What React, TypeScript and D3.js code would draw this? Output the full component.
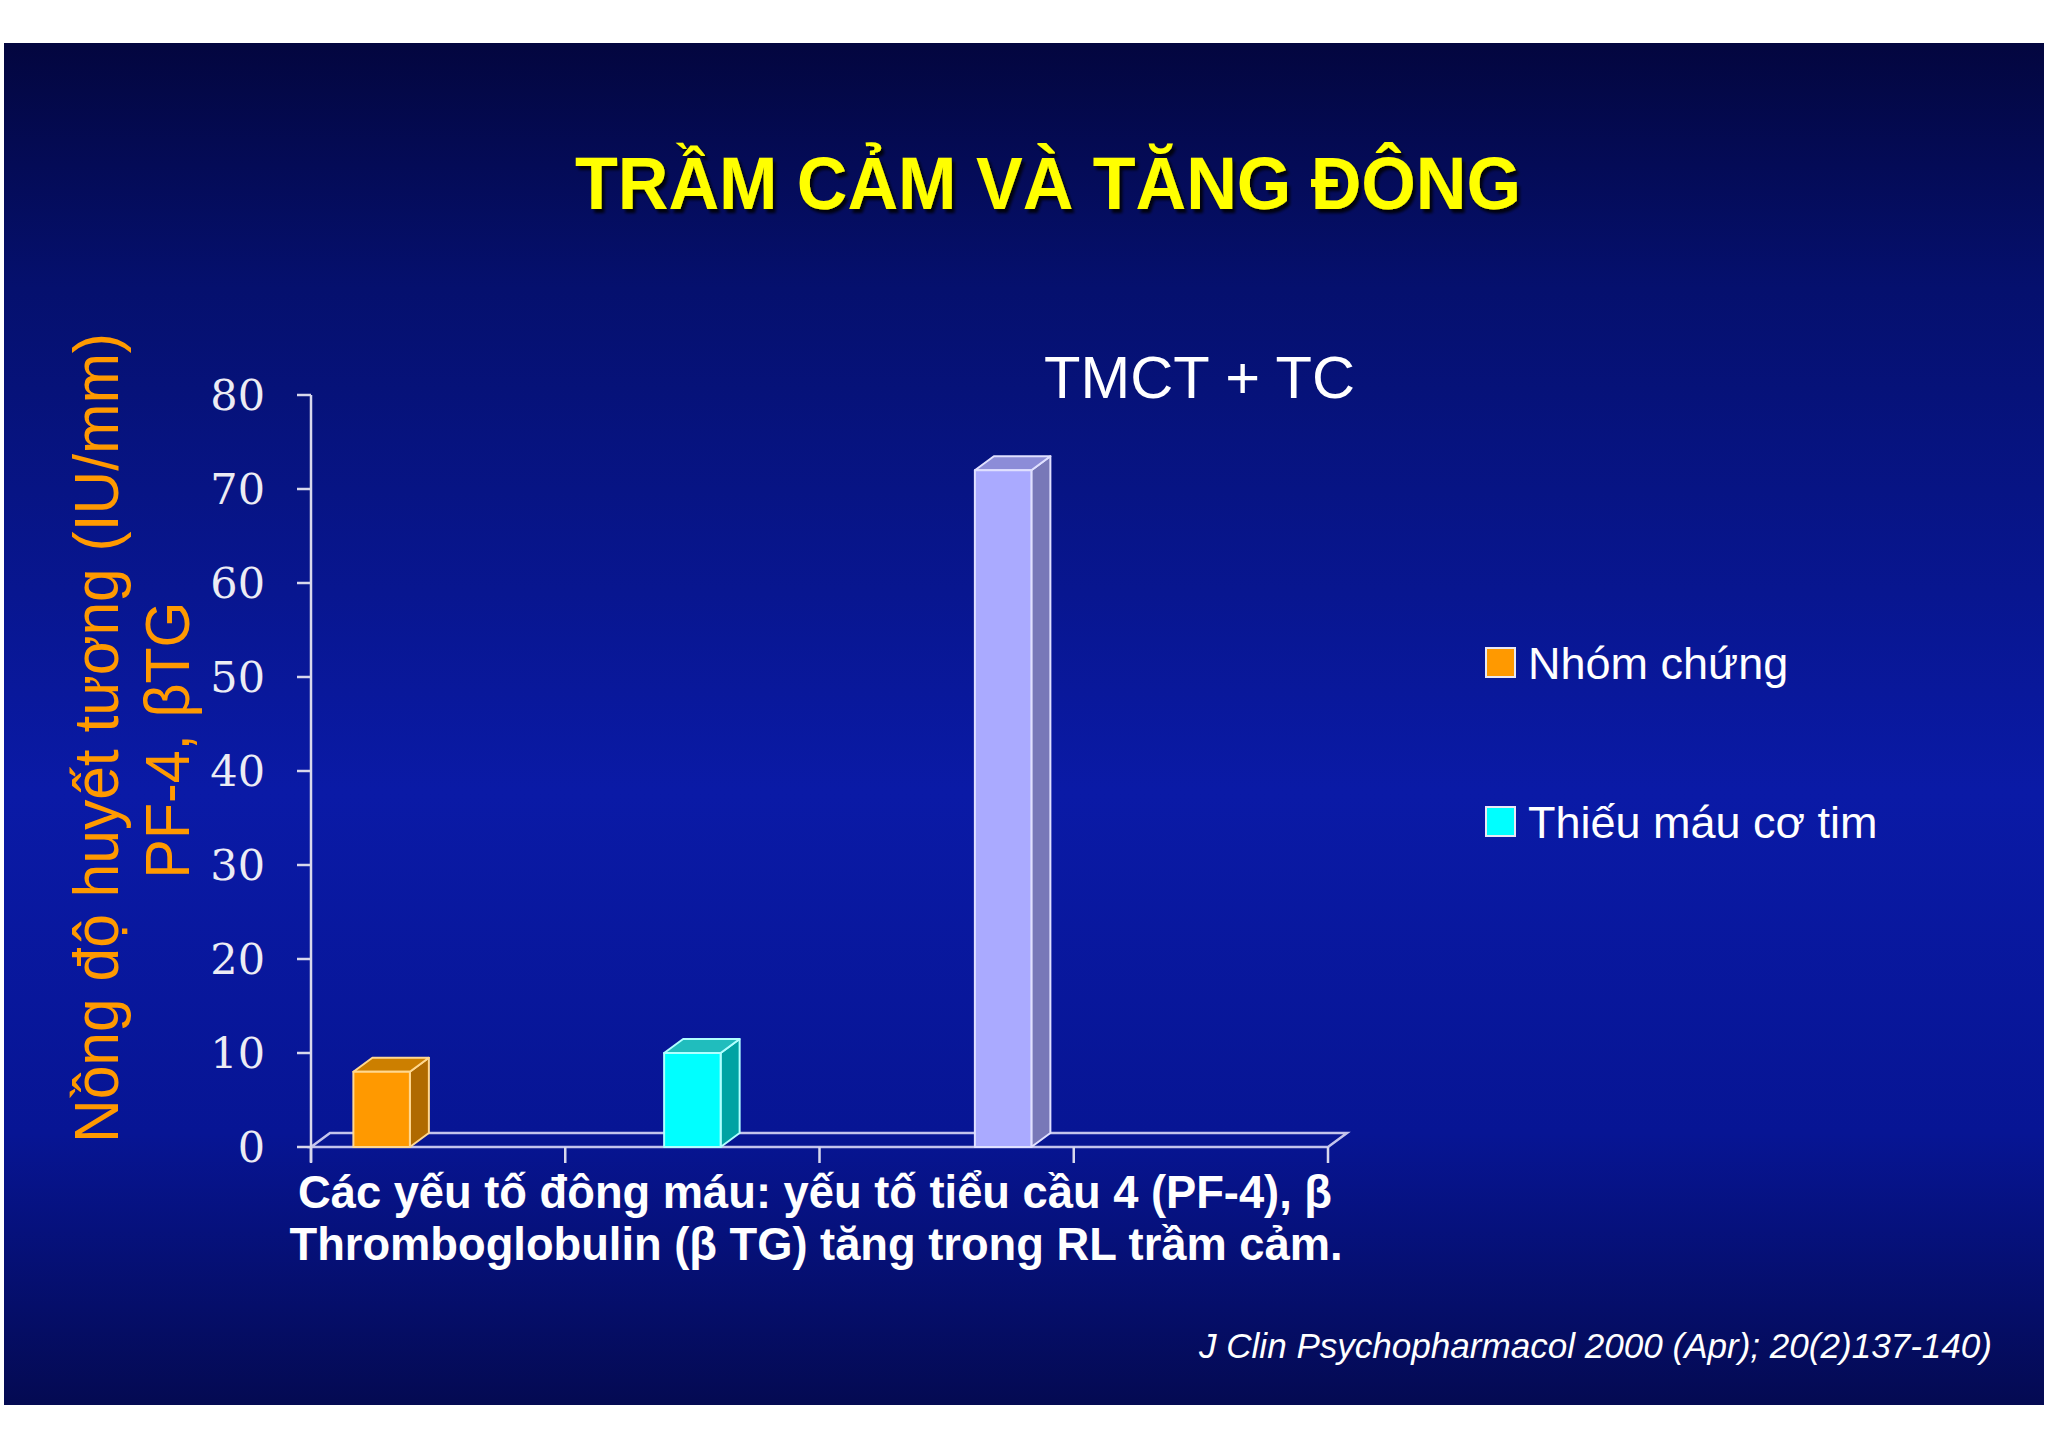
import React from "react";
import * as d3 from "d3";

// categories along the floor (unnamed in the slide)
const categories = ["c1", "c2", "c3", "c4"];
const seriesNames = ["Nhóm chứng", "Thiếu máu cơ tim", "TMCT + TC"];
// one value per series, each sitting in its own category
const nhomChung = [8, null, null, null];
const thieuMau = [null, 10, null, null];
const tmctTc = [null, null, 72, null];
const seriesValues = [nhomChung, thieuMau, tmctTc];
const yTicks = [0, 10, 20, 30, 40, 50, 60, 70, 80];
const legendItems = ["Nhóm chứng", "Thiếu máu cơ tim"];

const faces = [
  { front: "#FF9900", top: "#CC7F00", side: "#B06A00", edge: "#FFD890" },
  { front: "#00FFFF", top: "#20BDBD", side: "#00A3A3", edge: "#B0FFFF" },
  { front: "#AAAAFF", top: "#8C8CD8", side: "#7878B8", edge: "#E0E0FF" },
];

const W = 2048;
const H = 1448;
const depth = { dx: 19, dy: -14 };

export default function App() {
  const y = d3.scaleLinear().domain([0, 80]).range([1147, 395]);
  const x0 = d3.scaleBand().domain(categories).range([311, 1328]).padding(0);
  const x1 = d3
    .scaleBand()
    .domain(seriesNames)
    .range([0, x0.bandwidth()])
    .paddingInner(0)
    .paddingOuter(0.75);

  const y0 = y(0);
  const xL = x0.range()[0];
  const xR = x0.range()[1];

  const bars: any[] = [];
  seriesValues.forEach((vals, si) => {
    vals.forEach((v, ci) => {
      if (v == null) return;
      const bx = (x0(categories[ci]) as number) + (x1(seriesNames[si]) as number);
      const bw = x1.bandwidth();
      const yt = y(v);
      const f = faces[si];
      const { dx, dy } = depth;
      const top = [
        [bx, yt],
        [bx + dx, yt + dy],
        [bx + bw + dx, yt + dy],
        [bx + bw, yt],
      ];
      const side = [
        [bx + bw, yt],
        [bx + bw + dx, yt + dy],
        [bx + bw + dx, y0 + dy],
        [bx + bw, y0],
      ];
      bars.push(
        <g key={`${si}-${ci}`} stroke={f.edge} strokeWidth={2} strokeLinejoin="round">
          <polygon points={side.map((p) => p.join(",")).join(" ")} fill={f.side} />
          <polygon points={top.map((p) => p.join(",")).join(" ")} fill={f.top} />
          <rect x={bx} y={yt} width={bw} height={y0 - yt} fill={f.front} />
        </g>
      );
    });
  });

  const floor = [
    [xL, y0],
    [xL + depth.dx, y0 + depth.dy],
    [xR + depth.dx, y0 + depth.dy],
    [xR, y0],
  ];

  const catEdges = [...categories.map((c) => x0(c) as number), xR];

  return (
    <div style={{ position: "absolute", left: 0, top: 0 }}>
      <svg width={W} height={H} style={{ display: "block" }}>
        <defs>
          <linearGradient id="bg" x1="0" y1="0" x2="0" y2="1">
            <stop offset="0" stopColor="#03063F" />
            <stop offset="0.18" stopColor="#05106E" />
            <stop offset="0.55" stopColor="#0A1AA6" />
            <stop offset="0.8" stopColor="#071594" />
            <stop offset="1" stopColor="#040A52" />
          </linearGradient>
          <filter id="shadow" x="-5%" y="-20%" width="110%" height="140%">
            <feDropShadow dx="3" dy="4" stdDeviation="1.5" floodColor="#000000" floodOpacity="0.85" />
          </filter>
        </defs>
        <rect x={0} y={0} width={W} height={H} fill="#FFFFFF" />
        <rect x={4} y={43} width={2040} height={1362} fill="url(#bg)" />

        <text
          x={1048}
          y={209}
          textAnchor="middle"
          fontFamily="'Liberation Sans', Arial, sans-serif"
          fontWeight="bold"
          fontSize={74}
          fill="#FFFF00"
          textLength={946}
          lengthAdjust="spacingAndGlyphs"
          filter="url(#shadow)"
        >
          TRẦM CẢM VÀ TĂNG ĐÔNG
        </text>

        {/* floor */}
        <polygon
          points={floor.map((p) => p.join(",")).join(" ")}
          fill="none"
          stroke="#C4C4EC"
          strokeWidth={2.5}
        />

        {/* y axis */}
        <g stroke="#D8D8EC" strokeWidth={2.5}>
          <line x1={xL} x2={xL} y1={y(80)} y2={y0 + 15} />
          {yTicks.map((t) => (
            <line key={t} x1={xL - 14} x2={xL} y1={y(t)} y2={y(t)} />
          ))}
          {catEdges.map((cx, i) => (
            <line key={i} x1={cx} x2={cx} y1={y0} y2={y0 + 16} />
          ))}
        </g>
        <g
          fontFamily="'DejaVu Serif', 'Liberation Serif', serif"
          fontSize={43}
          fill="#ECECF4"
          textAnchor="end"
        >
          {yTicks.map((t) => (
            <text key={t} x={265} y={y(t)} dy="0.36em">
              {t}
            </text>
          ))}
        </g>

        {bars}

        {/* y axis title */}
        <g fontFamily="'Liberation Sans', Arial, sans-serif" fontSize={63} fill="#FF9900" textAnchor="middle">
          <text transform="translate(118,738) rotate(-90)" textLength={810} lengthAdjust="spacingAndGlyphs">
            Nồng độ huyết tương (IU/mm)
          </text>
          <text transform="translate(189,740) rotate(-90)" textLength={277} lengthAdjust="spacingAndGlyphs">
            PF-4, βTG
          </text>
        </g>

        {/* x axis title */}
        <g
          fontFamily="'Liberation Sans', Arial, sans-serif"
          fontWeight="bold"
          fontSize={46}
          fill="#FFFFFF"
          textAnchor="middle"
        >
          <text x={815} y={1208} textLength={1034} lengthAdjust="spacingAndGlyphs">
            Các yếu tố đông máu: yếu tố tiểu cầu 4 (PF-4), β
          </text>
          <text x={816} y={1260} textLength={1053} lengthAdjust="spacingAndGlyphs">
            Thromboglobulin (β TG) tăng trong RL trầm cảm.
          </text>
        </g>

        <text
          x={1044}
          y={398}
          fontFamily="'Liberation Sans', Arial, sans-serif"
          fontSize={60}
          fill="#FFFFFF"
          textLength={311}
          lengthAdjust="spacingAndGlyphs"
        >
          {seriesNames[2]}
        </text>

        {/* legend */}
        {legendItems.map((name, i) => (
          <g key={name} transform={`translate(1486, ${648 + i * 159})`}>
            <rect x={0} y={0} width={29} height={29} fill={faces[i].front} stroke="#E8E8F4" strokeWidth={2} />
            <text
              x={42}
              y={31}
              fontFamily="'Liberation Sans', Arial, sans-serif"
              fontSize={45}
              fill="#FFFFFF"
            >
              {name}
            </text>
          </g>
        ))}

        <text
          x={1199}
          y={1358}
          fontFamily="'Liberation Sans', Arial, sans-serif"
          fontStyle="italic"
          fontSize={35}
          fill="#FFFFFF"
          textLength={793}
          lengthAdjust="spacingAndGlyphs"
        >
          J Clin Psychopharmacol 2000 (Apr); 20(2)137-140)
        </text>
      </svg>
    </div>
  );
}
